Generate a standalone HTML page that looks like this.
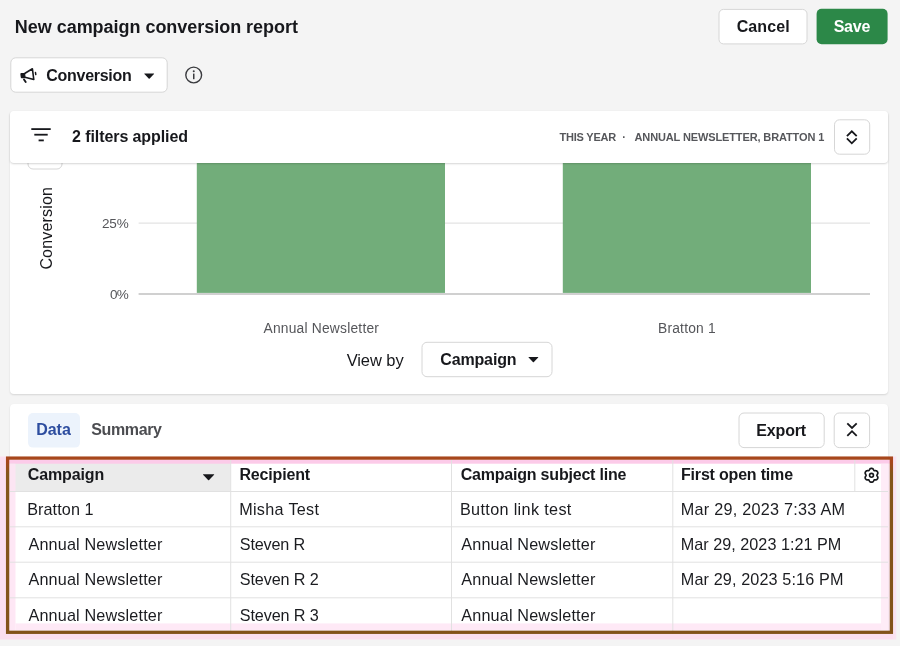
<!DOCTYPE html>
<html>
<head>
<meta charset="utf-8">
<style>
*{box-sizing:border-box;margin:0;padding:0}
html,body{width:900px;height:646px;overflow:hidden}
body{background:#f4f4f4;font-family:"Liberation Sans",sans-serif;color:#17181c;position:relative}
.abs{position:absolute}
.t{position:absolute;white-space:nowrap;line-height:1}
.card{position:absolute;background:#fff;border-radius:4px;box-shadow:0 1px 2px rgba(0,0,0,.13)}
svg{position:absolute;left:0;top:0;overflow:visible}
</style>
</head>
<body>

<!-- Card 1 (chart) -->
<div class="card" style="left:10px;top:111px;width:878px;height:283px;"></div>

<!-- chart shapes -->
<svg width="900" height="646" viewBox="0 0 900 646">
  <!-- cut-off button remnant -->
  <clipPath id="c1"><rect x="0" y="163" width="900" height="20"/></clipPath>
  <rect x="28" y="135" width="34" height="34" rx="5" fill="#fff" stroke="#d6d6d6" stroke-width="1" clip-path="url(#c1)"/>
  <!-- gridlines -->
  <rect x="138.6" y="222.6" width="731.4" height="1" fill="#dcdcdc"/>
  <rect x="138.6" y="293" width="731.4" height="2" fill="#d0d0d0"/>
  <!-- bars -->
  <rect x="196.8" y="160" width="248.2" height="132.9" fill="#72ad7a"/>
  <rect x="562.8" y="160" width="248.2" height="132.9" fill="#72ad7a"/>
</svg>

<!-- Header panel over chart -->
<div class="abs" style="left:10px;top:111px;width:878px;height:52px;background:#fff;border-radius:4px;box-shadow:0 1px 2px rgba(0,0,0,.17)"></div>

<!-- Card 2 (table) -->
<div class="card" style="left:10px;top:404px;width:878px;height:232px;border-radius:4px 4px 0 0;"></div>

<svg width="900" height="646" viewBox="0 0 900 646">
  <!-- Cancel / Save -->
  <rect x="719" y="9.4" width="88" height="34.5" rx="4.5" fill="#fff" stroke="#d6d6d6"/>
  <rect x="816.6" y="8.7" width="71" height="35.6" rx="5" fill="#2c8848"/>

  <!-- Conversion dropdown -->
  <rect x="10.8" y="57.8" width="156.4" height="34.4" rx="5" fill="#fff" stroke="#d6d6d6"/>
  <!-- megaphone -->
  <g fill="none" stroke="#17181c" stroke-linejoin="round" stroke-linecap="round">
    <path d="M21.3 73.9 L24.6 73.5 L32.4 68.8 L33.8 79.5 L24.9 77.2 L21.6 77.4 Z" stroke-width="1.6"/>
    <path d="M21.3 73.9 L24.6 73.5 L24.9 77.2 L21.6 77.4 Z" fill="#17181c" stroke-width="1.2"/>
    <path d="M24 79.5 L25.7 82" stroke-width="1.9"/>
    <path d="M35.5 72.6 L35.8 74.6" stroke-width="1.5"/>
  </g>
  <path d="M144.6 73.4 h9.2 q0.6 0 0.2 0.5 l-4.3 4.5 q-0.5 0.5 -1 0 l-4.3 -4.5 q-0.4 -0.5 0.2 -0.5 Z" fill="#17181c"/>

  <!-- info -->
  <circle cx="193.7" cy="75" r="7.9" fill="none" stroke="#3a3b3f" stroke-width="1.4"/>
  <rect x="193" y="73.6" width="1.5" height="5.6" fill="#3a3b3f"/>
  <circle cx="193.75" cy="71.2" r="1" fill="#3a3b3f"/>

  <!-- filter icon -->
  <rect x="31.3" y="128.2" width="19.4" height="1.8" fill="#17181c"/>
  <rect x="34.3" y="133.8" width="13.4" height="1.8" fill="#17181c"/>
  <rect x="38.6" y="139.5" width="5.2" height="1.8" fill="#17181c"/>

  <!-- expand btn -->
  <rect x="834.5" y="119.8" width="35.2" height="34.4" rx="5" fill="#fff" stroke="#d6d6d6"/>
  <g fill="none" stroke="#17181c" stroke-width="1.8">
    <path d="M846.9 136.2 L851.8 131.3 L856.7 136.2"/>
    <path d="M846.9 138.4 L851.8 143.3 L856.7 138.4"/>
  </g>

  <!-- Campaign dropdown -->
  <rect x="422" y="342.3" width="130" height="34.4" rx="5" fill="#fff" stroke="#d6d6d6"/>
  <path d="M528.8 357.1 h9.2 q0.6 0 0.2 0.5 l-4.3 4.5 q-0.5 0.5 -1 0 l-4.3 -4.5 q-0.4 -0.5 0.2 -0.5 Z" fill="#17181c"/>

  <!-- Data tab -->
  <rect x="28" y="413" width="52" height="34.6" rx="5" fill="#ecf3fc"/>
  <!-- Export / collapse -->
  <rect x="739" y="413" width="85.2" height="34.6" rx="5" fill="#fff" stroke="#d6d6d6"/>
  <rect x="834.2" y="413" width="35.4" height="34.6" rx="5" fill="#fff" stroke="#d6d6d6"/>
  <g fill="none" stroke="#17181c" stroke-width="1.8">
    <path d="M847.3 423.3 L852 428 L856.7 423.3"/>
    <path d="M847.3 435.9 L852 431.2 L856.7 435.9"/>
  </g>

  <!-- Table -->
  <rect x="10" y="460" width="220.7" height="31" fill="#ebebeb"/>
  <!-- outer glow -->
  <g fill="#fbdff0">
    <rect x="0" y="456.5" width="6" height="183"/>
    <rect x="6" y="634" width="887" height="5.5"/>
    <rect x="893" y="456.5" width="3.2" height="183" fill-opacity="0.8"/>
  </g>
  <!-- inner glow -->
  <rect x="9" y="460" width="881" height="3.7" fill="#fccbe9"/>
  <g fill="#fee4f4">
    <rect x="9" y="463.7" width="6.5" height="167" fill-opacity="0.9"/>
    <rect x="881" y="463.7" width="9" height="167" fill-opacity="0.7"/>
    <rect x="15.5" y="623.4" width="865.5" height="7.2" fill-opacity="0.8"/>
  </g>
  <g fill="#e1e1e1">
    <rect x="10" y="491" width="878" height="1"/>
    <rect x="10" y="526.3" width="878" height="1"/>
    <rect x="10" y="561.7" width="878" height="1"/>
    <rect x="10" y="597.3" width="878" height="1"/>
    <rect x="230.2" y="460" width="1" height="174"/>
    <rect x="451" y="460" width="1" height="174"/>
    <rect x="672.3" y="460" width="1" height="174"/>
    <rect x="854.3" y="460" width="1" height="31"/>
  </g>
  <path d="M203.3 474.2 h10.6 q0.6 0 0.2 0.5 l-5 5.2 q-0.5 0.5 -1 0 l-5 -5.2 q-0.4 -0.5 0.2 -0.5 Z" fill="#17181c"/>
  <!-- gear -->
  <path d="M876.90 475.30 L876.96 475.01 L877.12 474.71 L877.33 474.38 L877.55 474.01 L877.73 473.63 L877.83 473.24 L877.84 472.87 L877.77 472.51 L877.64 472.17 L877.48 471.85 L877.28 471.55 L877.05 471.27 L876.77 471.03 L876.44 470.85 L876.06 470.74 L875.64 470.70 L875.22 470.71 L874.82 470.73 L874.48 470.72 L874.20 470.62 L873.98 470.43 L873.80 470.14 L873.62 469.79 L873.41 469.41 L873.17 469.07 L872.88 468.79 L872.56 468.60 L872.22 468.48 L871.86 468.42 L871.50 468.40 L871.14 468.42 L870.78 468.48 L870.44 468.60 L870.12 468.79 L869.83 469.07 L869.59 469.41 L869.38 469.79 L869.20 470.14 L869.02 470.43 L868.80 470.62 L868.52 470.72 L868.18 470.73 L867.78 470.71 L867.36 470.70 L866.94 470.74 L866.56 470.85 L866.23 471.03 L865.95 471.27 L865.72 471.55 L865.52 471.85 L865.36 472.17 L865.23 472.51 L865.16 472.87 L865.17 473.24 L865.27 473.63 L865.45 474.01 L865.67 474.38 L865.88 474.71 L866.04 475.01 L866.10 475.30 L866.04 475.59 L865.88 475.89 L865.67 476.22 L865.45 476.59 L865.27 476.97 L865.17 477.36 L865.16 477.73 L865.23 478.09 L865.36 478.43 L865.52 478.75 L865.72 479.05 L865.95 479.33 L866.23 479.57 L866.56 479.75 L866.94 479.86 L867.36 479.90 L867.78 479.89 L868.18 479.87 L868.52 479.88 L868.80 479.98 L869.02 480.17 L869.20 480.46 L869.38 480.81 L869.59 481.19 L869.83 481.53 L870.12 481.81 L870.44 482.00 L870.78 482.12 L871.14 482.18 L871.50 482.20 L871.86 482.18 L872.22 482.12 L872.56 482.00 L872.88 481.81 L873.17 481.53 L873.41 481.19 L873.62 480.81 L873.80 480.46 L873.98 480.17 L874.20 479.98 L874.48 479.88 L874.82 479.87 L875.22 479.89 L875.64 479.90 L876.06 479.86 L876.44 479.75 L876.77 479.57 L877.05 479.33 L877.28 479.05 L877.48 478.75 L877.64 478.43 L877.77 478.09 L877.84 477.73 L877.83 477.36 L877.73 476.97 L877.55 476.59 L877.33 476.22 L877.12 475.89 L876.96 475.59 Z" fill="none" stroke="#17181c" stroke-width="1.7" stroke-linejoin="round"/>
  <circle cx="871.5" cy="475.3" r="1.95" fill="none" stroke="#17181c" stroke-width="1.6"/>
</svg>

<div id="txt" style="position:absolute;left:0;top:0;width:900px;height:646px;will-change:transform">
<div class="t" style="left:14.80px;top:18.00px;font-size:18px;font-weight:bold;color:#17181c;letter-spacing:-0.033px">New campaign conversion report</div>
<div class="t" style="left:736.74px;top:19.00px;font-size:16px;font-weight:bold;color:#17181c;letter-spacing:0.084px">Cancel</div>
<div class="t" style="left:833.64px;top:19.00px;font-size:16px;font-weight:bold;color:#ffffff;letter-spacing:-0.220px">Save</div>
<div class="t" style="left:46.24px;top:68.00px;font-size:16px;font-weight:bold;color:#17181c;letter-spacing:-0.274px">Conversion</div>
<div class="t" style="left:72.05px;top:129.00px;font-size:16px;font-weight:bold;color:#17181c;letter-spacing:-0.085px">2 filters applied</div>
<div class="t" style="left:559.58px;top:132.00px;font-size:11px;font-weight:bold;color:#56575b;letter-spacing:-0.241px">THIS YEAR</div>
<div class="t" style="left:622.14px;top:132.00px;font-size:11px;font-weight:bold;color:#56575b;letter-spacing:0.000px">·</div>
<div class="t" style="left:634.53px;top:132.00px;font-size:11px;font-weight:bold;color:#56575b;letter-spacing:-0.123px">ANNUAL NEWSLETTER, BRATTON 1</div>
<div class="t" style="left:101.92px;top:217.00px;font-size:13.5px;color:#55565a;letter-spacing:-0.080px">25%</div>
<div class="t" style="left:109.97px;top:288.00px;font-size:13.5px;color:#55565a;letter-spacing:-0.703px">0%</div>
<div class="t" style="left:263.47px;top:322.00px;font-size:13.8px;color:#55565a;letter-spacing:0.218px">Annual Newsletter</div>
<div class="t" style="left:658.07px;top:322.00px;font-size:13.8px;color:#55565a;letter-spacing:0.190px">Bratton 1</div>
<div class="t" style="left:346.63px;top:352.00px;font-size:16.5px;color:#17181c;letter-spacing:-0.079px">View by</div>
<div class="t" style="left:440.24px;top:352.00px;font-size:16px;font-weight:bold;color:#17181c;letter-spacing:-0.142px">Campaign</div>
<div class="t" style="left:36.13px;top:422.00px;font-size:16px;font-weight:bold;color:#2d4d9f;letter-spacing:-0.004px">Data</div>
<div class="t" style="left:91.24px;top:422.00px;font-size:16px;font-weight:bold;color:#4c4d51;letter-spacing:-0.362px">Summary</div>
<div class="t" style="left:756.33px;top:423.00px;font-size:16px;font-weight:bold;color:#17181c;letter-spacing:-0.161px">Export</div>
<div class="t" style="left:27.84px;top:467.00px;font-size:16px;font-weight:bold;color:#17181c;letter-spacing:-0.142px">Campaign</div>
<div class="t" style="left:239.43px;top:467.00px;font-size:16px;font-weight:bold;color:#17181c;letter-spacing:-0.169px">Recipient</div>
<div class="t" style="left:460.64px;top:467.00px;font-size:16px;font-weight:bold;color:#17181c;letter-spacing:-0.200px">Campaign subject line</div>
<div class="t" style="left:681.03px;top:467.00px;font-size:16px;font-weight:bold;color:#17181c;letter-spacing:-0.190px">First open time</div>
<div class="t" style="left:27.17px;top:501.00px;font-size:16.2px;color:#1b1c20;letter-spacing:0.091px">Bratton 1</div>
<div class="t" style="left:239.17px;top:501.00px;font-size:16.2px;color:#1b1c20;letter-spacing:0.309px">Misha Test</div>
<div class="t" style="left:459.97px;top:501.00px;font-size:16.2px;color:#1b1c20;letter-spacing:0.345px">Button link test</div>
<div class="t" style="left:680.77px;top:501.00px;font-size:16.2px;color:#1b1c20;letter-spacing:0.257px">Mar 29, 2023 7:33 AM</div>
<div class="t" style="left:28.47px;top:536.00px;font-size:16.2px;color:#1b1c20;letter-spacing:0.158px">Annual Newsletter</div>
<div class="t" style="left:239.76px;top:536.00px;font-size:16.2px;color:#1b1c20;letter-spacing:-0.157px">Steven R</div>
<div class="t" style="left:461.27px;top:536.00px;font-size:16.2px;color:#1b1c20;letter-spacing:0.165px">Annual Newsletter</div>
<div class="t" style="left:680.77px;top:536.00px;font-size:16.2px;color:#1b1c20;letter-spacing:0.021px">Mar 29, 2023 1:21 PM</div>
<div class="t" style="left:28.47px;top:571.00px;font-size:16.2px;color:#1b1c20;letter-spacing:0.158px">Annual Newsletter</div>
<div class="t" style="left:239.76px;top:571.00px;font-size:16.2px;color:#1b1c20;letter-spacing:-0.126px">Steven R 2</div>
<div class="t" style="left:461.27px;top:571.00px;font-size:16.2px;color:#1b1c20;letter-spacing:0.165px">Annual Newsletter</div>
<div class="t" style="left:680.77px;top:571.00px;font-size:16.2px;color:#1b1c20;letter-spacing:0.131px">Mar 29, 2023 5:16 PM</div>
<div class="t" style="left:28.47px;top:607.00px;font-size:16.2px;color:#1b1c20;letter-spacing:0.158px">Annual Newsletter</div>
<div class="t" style="left:239.76px;top:607.00px;font-size:16.2px;color:#1b1c20;letter-spacing:-0.115px">Steven R 3</div>
<div class="t" style="left:461.27px;top:607.00px;font-size:16.2px;color:#1b1c20;letter-spacing:0.165px">Annual Newsletter</div>
<div class="t" style="left:0;top:0;font-size:16px;color:#17181c;letter-spacing:0.180px;transform-origin:0 0;transform:translate(39.00px,269.61px) rotate(-90deg)">Conversion</div>
</div>

<!-- Highlight box -->
<svg width="900" height="646" viewBox="0 0 900 646">
  <defs>
    <linearGradient id="bg" x1="0" y1="0" x2="0" y2="1" gradientUnits="objectBoundingBox">
      <stop offset="0" stop-color="#a7471c"/>
      <stop offset="0.02" stop-color="#a7471c"/>
      <stop offset="0.09" stop-color="#84561a"/>
      <stop offset="1" stop-color="#82531a"/>
    </linearGradient>
  </defs>
  <rect x="7.6" y="458.1" width="883.8" height="174.2" fill="none" stroke="url(#bg)" stroke-width="3.3"/>
</svg>

</body>
</html>
